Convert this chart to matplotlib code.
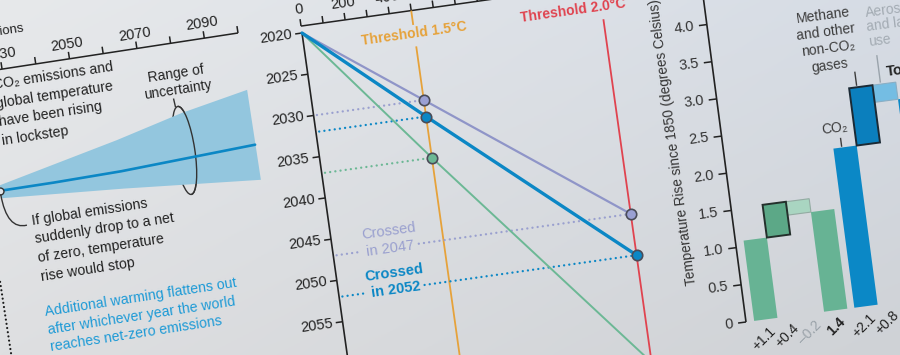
import numpy as np
import matplotlib
matplotlib.use("Agg")
import matplotlib.pyplot as plt
from matplotlib.transforms import Affine2D
from matplotlib.patches import Arc, PathPatch
from matplotlib.path import Path

plt.rcParams['font.family'] = ['Liberation Sans', 'DejaVu Sans']

W, H = 900, 355

# ---------------- data ----------------
# Left panel: warming after net-zero (schematic)
nz_years = [2024, 2040, 2060, 2080, 2100]
nz_temp = [1.20, 1.20, 1.21, 1.24, 1.27]
nz_upper = [1.26, 1.38, 1.53, 1.70, 1.83]
nz_lower = [1.13, 1.09, 1.04, 0.98, 0.92]
left_ticks = [2020, 2030, 2040, 2050, 2060, 2070, 2080, 2090, 2100]
left_tick_labels = ['2030', '2050', '2070', '2090']

# Middle panel: cumulative CO2 emissions (Gt) against year
cum_ticks = [0, 100, 200, 300, 400, 500, 600, 700, 800, 900, 1000,
             1100, 1200, 1300, 1400, 1500, 1600]
cum_tick_labels = ['0', '200', '400', '600', '800', '1000', '1200', '1400', '1600']
year_ticks = [2020, 2025, 2030, 2035, 2040, 2045, 2050, 2055, 2060, 2065]
lav_years = [2020, 2030, 2047]
lav_cum = [0, 500, 1350]
blue_years = [2020, 2032, 2052]
blue_cum = [0, 500, 1350]
green_years = [2020, 2037, 2065]
green_cum = [0, 500, 1350]
threshold_cum = [500, 1350]
threshold_labels = ['Threshold 1.5°C', 'Threshold 2.0°C']

# Right panel: temperature rise waterfall
bar_pos = [1, 2, 3, 4, 5.3, 6.3, 7.3, 8.3]
bar_low = [0, 1.08, 1.34, 0, 0, 2.14, 2.68, 0]
bar_high = [1.08, 1.52, 1.52, 1.34, 2.14, 2.91, 2.91, 2.68]
bar_labels = ['+1.1', '+0.4', '–0.2', '1.4', '+2.1', '+0.8', '–0.2', '2.7']
temp_ticks = [0, 0.5, 1.0, 1.5, 2.0, 2.5, 3.0, 3.5, 4.0]

# ---------------- styles ----------------
INK = '#222222'
BLUE = '#0b87c5'
LAV = '#8f95c8'
GREEN = '#6cb895'
ORANGE = '#e6a23a'
RED = '#e0434f'

fig = plt.figure(figsize=(9, 3.55), dpi=100)

# background gradient
bg = fig.add_axes([0, 0, 1, 1])
bg.set_axis_off()
bg.set_zorder(-10)
gx, gy = np.meshgrid(np.linspace(0, 1, 300), np.linspace(0, 1, 120))
tl = np.array([231, 233, 235]); tr = np.array([214, 220, 229])
bl = np.array([222, 223, 225]); br = np.array([207, 210, 214])
img = (((1 - gx) * (1 - gy))[..., None] * tl + (gx * (1 - gy))[..., None] * tr
       + ((1 - gx) * gy)[..., None] * bl + (gx * gy)[..., None] * br) / 255.0
bg.imshow(img, extent=[0, 1, 0, 1], aspect='auto', origin='upper')
bg.set_xlim(0, 1); bg.set_ylim(0, 1)


def make_panel(x0, y0, org, sx, sy, xlim, ylim, theta):
    ox, oy = org[0], H - org[1]
    left = ox + (xlim[0] - x0) * sx
    width = (xlim[1] - xlim[0]) * sx
    bottom = oy + (ylim[0] - y0) * sy
    height = (ylim[1] - ylim[0]) * sy
    ax = fig.add_axes([left / W, bottom / H, width / W, height / H])
    ax.set_xlim(xlim)
    ax.set_ylim(ylim)
    ax.set_autoscale_on(False)
    ax.set_axis_off()
    T = ax.transData + Affine2D().rotate_deg_around(ox, oy, theta)
    return ax, T


def L(ax, T, xs, ys, **kw):
    kw.setdefault('solid_capstyle', 'butt')
    return ax.plot(xs, ys, transform=T, clip_on=False, **kw)


def tx(ax, T, x, y, s, rot, **kw):
    return ax.text(x, y, s, transform=T, rotation=rot, rotation_mode='anchor',
                   clip_on=False, **kw)


# ======================= LEFT PANEL =======================
thL = 8.7
axL, TL = make_panel(2100, 2.40, (238, 33), 3.41, 100, (2000, 2110), (-1.2, 3.2), thL)
AXY = 2.40
L(axL, TL, [2010, 2100], [AXY, AXY], color=INK, lw=1.1)
for yr in left_ticks:
    L(axL, TL, [yr, yr], [AXY, AXY + 0.07], color=INK, lw=1.1)
for s in left_tick_labels:
    tx(axL, TL, float(s), AXY + 0.145, s, thL, ha='center', va='center',
       fontsize=10.5, color=INK)
tx(axL, TL, 2038, 2.74, 'Year of net-zero emissions', thL, ha='right',
   va='baseline', fontsize=9.5, color=INK)

# uncertainty ring (back half behind band)
ring_c = (2079.3, 1.32)
axL.add_patch(Arc(ring_c, 6.0, 0.89, theta1=0, theta2=360, color='#333333',
                  lw=1.0, transform=TL, clip_on=False, zorder=1.5))
axL.fill_between(nz_years, nz_lower, nz_upper, color='#93c6de', lw=0,
                 transform=TL, clip_on=False, zorder=2)
axL.add_patch(Arc(ring_c, 6.0, 0.89, theta1=-90, theta2=90, color='#333333',
                  lw=1.0, transform=TL, clip_on=False, zorder=3))
L(axL, TL, nz_years, nz_temp, color=BLUE, lw=1.9, zorder=4,
  solid_capstyle='round')
axL.plot([nz_years[0]], [nz_temp[0]], 'o', ms=5, mfc='#dfe3e7', mec='#333333',
         mew=1.0, transform=TL, clip_on=False, zorder=5)
L(axL, TL, [2078.4, 2078.6], [1.85, 1.76], color='#333333', lw=1.0)
for i, line in enumerate(['Range of', 'uncertainty']):
    tx(axL, TL, 2080.1, 2.05 - i * 0.16, line, thL, ha='center', va='baseline',
       fontsize=10, color=INK)

for i, line in enumerate(['CO₂ emissions and', 'global temperature',
                          'have been rising', 'in lockstep']):
    tx(axL, TL, 2026.7, 2.213 - i * 0.187, line, thL, ha='left', va='baseline',
       fontsize=10.2, color=INK)

conn = Path([(2024.05, 1.165), (2024.3, 0.80), (2030.3, 0.82)],
            [Path.MOVETO, Path.CURVE3, Path.CURVE3])
axL.add_patch(PathPatch(conn, fill=False, ec='#333333', lw=1.0, transform=TL,
                        clip_on=False, zorder=5))
for i, line in enumerate(['If global emissions', 'suddenly drop to a net',
                          'of zero, temperature', 'rise would stop']):
    tx(axL, TL, 2032.0, 0.816 - i * 0.191, line, thL, ha='left', va='baseline',
       fontsize=10.2, color=INK)
for i, line in enumerate(['Additional warming flattens out',
                          'after whichever year the world',
                          'reaches net-zero emissions']):
    tx(axL, TL, 2031.7, -0.111 - i * 0.176, line, thL, ha='left', va='baseline',
       fontsize=10.2, color='#1d9ad6')
L(axL, TL, [2020, 2020], [0.30, -1.2], color='#1a1a1a', lw=1.6,
  dashes=(0.01, 1.9), dash_capstyle='round')

# ======================= MIDDLE PANEL =======================
thM = 8.0
axM, TM = make_panel(0, 2020, (302, 33), 0.2225, -8.33, (-300, 1700), (2070, 2010), thM)
XAXY = 2019.16
L(axM, TM, [0, 1650], [XAXY, XAXY], color=INK, lw=1.1)
for g in cum_ticks:
    L(axM, TM, [g, g], [XAXY, XAXY - 0.84], color=INK, lw=1.1)
for s in cum_tick_labels:
    tx(axM, TM, float(s), 2017.2, s, thM, ha='center', va='center',
       fontsize=10.5, color=INK)
L(axM, TM, [0, 0], [2020, 2070], color=INK, lw=1.2)
for y in year_ticks:
    L(axM, TM, [-31, 0], [y, y], color=INK, lw=1.1)
    tx(axM, TM, -45, y, str(y), thM, ha='right', va='center', fontsize=10.5,
       color=INK)

# thresholds
thr_colors = [ORANGE, RED]
thr_segments = [[(XAXY, 2020.9), (2023.5, 2070)], [(2023.4, 2070)]]
thr_label_x = [500, 1220]
for g, c, segs, lab, lx in zip(threshold_cum, thr_colors, thr_segments,
                              threshold_labels, thr_label_x):
    for (ya, yb) in segs:
        L(axM, TM, [g, g], [ya, yb], color=c, lw=1.3, zorder=2)
    tx(axM, TM, lx, 2022.4, lab, thM, ha='center', va='baseline', fontsize=10,
       fontweight='bold', color=c)

paths = [
    (lav_cum, lav_years, LAV, '#9aa0d3', 1.6, '#9aa0cf', 'normal'),
    (green_cum, green_years, GREEN, GREEN, 1.4, GREEN, 'normal'),
    (blue_cum, blue_years, BLUE, BLUE, 2.4, BLUE, 'bold'),
]
for cum, yrs, lc, mc, lw, tc, fw in paths:
    L(axM, TM, cum, yrs, color=lc, lw=lw, zorder=3, solid_capstyle='round')
    for k in (1, 2):
        g, yv = cum[k], yrs[k]
        if k == 1:
            segs = [(15, g)]
        else:
            segs = [(15, 125), (388, g)]
            tx(axM, TM, 260, yv - 1.5, 'Crossed', thM, ha='center',
               va='baseline', fontsize=10.5, fontweight=fw, color=tc)
            tx(axM, TM, 260, yv + 0.55, f'in {yv}', thM, ha='center',
               va='baseline', fontsize=10.5, fontweight=fw, color=tc)
        for (xa, xb) in segs:
            L(axM, TM, [xa, xb], [yv, yv], color=tc, lw=1.7,
              dashes=(0.01, 2.2), dash_capstyle='round', zorder=2)
    axM.plot(cum[1:], yrs[1:], 'o', ms=7.5, mfc=mc, mec='#4a4c58', mew=1.2,
             transform=TM, clip_on=False, zorder=6)

# ======================= RIGHT PANEL =======================
thR = 7.5
axR, TR = make_panel(0.15, 0, (746, 322), 23.5, 75, (-3, 12), (-0.8, 4.8), thR)
YAX = axR.get_xlim()[0] + 3.15
L(axR, TR, [YAX, YAX], [0, 4.6], color=INK, lw=1.2)
for t in temp_ticks:
    L(axR, TR, [YAX - 0.34, YAX], [t, t], color=INK, lw=1.1)
    tx(axR, TR, YAX - 0.55, t, '0' if t == 0 else f'{t:.1f}', thR, ha='right',
       va='center', fontsize=10.5, color='#333333')
tx(axR, TR, YAX - 2.09, 0.58, 'Temperature Rise since 1850 (degrees Celsius)',
   90 + thR, ha='left', va='center', fontsize=9.8, color='#333333')

bar_face = ['#67b394', '#5ca887', '#a9d5c1', '#67b394',
            '#0b88c6', '#0b7fbd', '#74bde3', '#0b88c6']
bar_edge = ['none', '#24302c', '#93aba2', 'none',
            'none', '#1b2a35', '#8aaec4', 'none']
bar_lw = [0, 1.4, 0.8, 0, 0, 1.4, 0.8, 0]
bar_z = [2, 4, 3, 2, 2, 4, 3, 2]
heights = [hi - lo for lo, hi in zip(bar_low, bar_high)]
bars = axR.bar(bar_pos, heights, bottom=bar_low, width=1.0)
for p, fc, ec, lw, z in zip(bars, bar_face, bar_edge, bar_lw, bar_z):
    p.set_facecolor(fc)
    p.set_edgecolor(ec)
    p.set_linewidth(lw)
    p.set_zorder(z)
    p.set_transform(TR)
    p.set_clip_on(False)

lab_col = ['#222222', '#222222', '#9ba3aa', '#222222',
           '#222222', '#222222', '#9ba3aa', '#222222']
lab_w = ['normal', 'normal', 'normal', 'bold', 'normal', 'normal', 'normal', 'bold']
for x, s, c, w in zip(bar_pos, bar_labels, lab_col, lab_w):
    tx(axR, TR, x + 0.26, -0.14, s, 45, ha='right', va='center', fontsize=10,
       color=c, fontweight=w)

ANN = '#3c3c3c'
tx(axR, TR, 4.95, 2.35, 'CO₂', thR, ha='center', va='baseline', fontsize=10,
   color=ANN)
L(axR, TR, [5.16, 5.16], [2.15, 2.27], color=ANN, lw=1.0)
for i, line in enumerate(['Methane', 'and other', 'non-CO₂', 'gases']):
    tx(axR, TR, 5.12, 3.86 - i * 0.222, line, thR, ha='center', va='baseline',
       fontsize=10, color=ANN)
L(axR, TR, [6.13, 6.13], [2.93, 3.12], color=ANN, lw=1.0)
for i, line in enumerate(['Aerosols', 'and land', 'use']):
    tx(axR, TR, 6.89, 3.83 - i * 0.2, line, thR, ha='left', va='baseline',
       fontsize=10, color='#a3abb3')
L(axR, TR, [7.15, 7.15], [2.93, 3.30], color='#9aa3ab', lw=1.0)
tx(axR, TR, 7.47, 3.0, 'Total', thR, ha='left', va='baseline', fontsize=10.5,
   fontweight='bold', color=INK)

fig.savefig('out.png', dpi=100)
